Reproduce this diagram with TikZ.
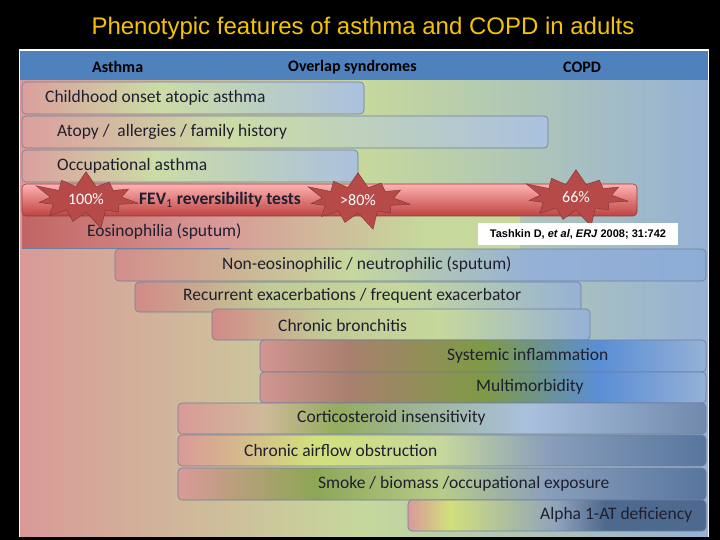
\documentclass[tikz,border=0pt]{standalone}
\usepackage{fontspec}
\setmainfont{Carlito}
\newfontfamily\titlefont{Liberation Sans}
\usetikzlibrary{shapes.symbols}
\definecolor{cR}{HTML}{D99A98}
\definecolor{cG}{HTML}{C6D89C}
\definecolor{cB}{HTML}{95B1D6}
\definecolor{hdr}{HTML}{4F81BD}
\definecolor{tit}{HTML}{F5C400}
\definecolor{brd}{HTML}{6F7F9F}
\definecolor{star}{HTML}{B64A48}
\definecolor{txt}{HTML}{1F1F2F}
\definecolor{brn}{HTML}{A8806E}
\definecolor{olv}{HTML}{7F9A45}
\definecolor{bl}{HTML}{5A8ED6}
\definecolor{dbl}{HTML}{57759E}
\pgfdeclarehorizontalshading{bgsh}{100bp}{color(0bp)=(cR); color(25bp)=(cR); color(50bp)=(cG); color(75bp)=(cB); color(100bp)=(cB)}
\pgfdeclarehorizontalshading{lightsh}{100bp}{color(0bp)=(cR!95!white); color(25bp)=(cR!95!white); color(45bp)=(cG!90!white); color(75bp)=(cB!80!white); color(100bp)=(cB!80!white)}
\pgfdeclarehorizontalshading{eossh}{100bp}{color(0bp)=(star!85!white); color(25bp)=(star!85!white); color(45bp)=(cR); color(65bp)=(cG); color(75bp)=(cG); color(100bp)=(cG)}
\pgfdeclarehorizontalshading{noneos}{100bp}{color(0bp)=(cR!85!star); color(25bp)=(cR!85!star); color(45bp)=(cG); color(60bp)=(cB); color(75bp)=(cB!85!bl); color(100bp)=(cB!85!bl)}
\pgfdeclarehorizontalshading{recsh}{100bp}{color(0bp)=(cR!80!star); color(25bp)=(cR!80!star); color(40bp)=(cG!85!brn); color(55bp)=(cG); color(75bp)=(cB); color(100bp)=(cB)}
\pgfdeclarehorizontalshading{syssh}{100bp}{color(0bp)=(cR!85!brn); color(25bp)=(cR!85!brn); color(35bp)=(brn); color(50bp)=(olv); color(63bp)=(bl); color(75bp)=(cB); color(100bp)=(cB)}
\pgfdeclarehorizontalshading{cortsh}{100bp}{color(0bp)=(cR); color(25bp)=(cR); color(33bp)=(cR!50!cG); color(40bp)=(olv!70!cG); color(58bp)=(cB!80!white); color(75bp)=(dbl!85!white); color(100bp)=(dbl!85!white)}
\pgfdeclarehorizontalshading{airsh}{100bp}{color(0bp)=(cR); color(25bp)=(cR); color(38bp)=(cG!80!yellow); color(50bp)=(cG); color(60bp)=(dbl!70!white); color(75bp)=(dbl); color(100bp)=(dbl)}
\pgfdeclarehorizontalshading{smksh}{100bp}{color(0bp)=(cR); color(25bp)=(cR); color(38bp)=(olv!80!cG); color(50bp)=(cG!80!olv); color(60bp)=(dbl!70!white); color(75bp)=(dbl); color(100bp)=(dbl)}
\pgfdeclarehorizontalshading{alpsh}{100bp}{color(0bp)=(cR); color(25bp)=(cR); color(32bp)=(cG!80!yellow); color(50bp)=(cB!70!gray); color(58bp)=(dbl!90!black); color(75bp)=(dbl!90!black); color(100bp)=(dbl!90!black)}
\tikzset{
  bar/.style={draw=brd, line width=0.6pt, rounded corners=4pt},
  lbl/.style={anchor=west, text=txt, font=\fontsize{17.5}{20}\selectfont, inner sep=0pt},
  hlbl/.style={anchor=west, text=black, font=\bfseries\fontsize{16}{19}\selectfont, inner sep=0pt},
  burst/.style={starburst, starburst points=11, starburst point height=20pt, fill=star, draw=star!70!black, minimum width=112pt, minimum height=66pt, inner sep=0pt, text=white, font=\fontsize{16}{18}\selectfont}
}
\begin{document}
\begin{tikzpicture}[x=1pt,y=-1pt]
\useasboundingbox (0,0) rectangle (720,540);
\fill[black] (0,0) rectangle (720,540);
\node[text=tit, font=\titlefont\fontsize{24}{28}\selectfont] (title) at (363,28) {Phenotypic features of asthma and COPD in adults};
\draw[white, line width=1.5pt] (20,50) rectangle (708,536);
\shade[shading=bgsh] (20,80) rectangle (708,536);
\fill[hdr] (20,51) rectangle (708,80);
\node[hlbl] (h1) at (92,67) {Asthma};
\node[hlbl] (h2) at (288,67) {Overlap syndromes};
\node[hlbl] (h3) at (563,67) {COPD};
% bars
\shade[bar, shading=lightsh] (22,82) rectangle (364,114);
\node[lbl] (b1) at (45,98) {Childhood onset atopic asthma};
\shade[bar, shading=lightsh] (22,116) rectangle (548,148);
\node[lbl] (b2) at (57,132) {Atopy /\ \ allergies / family history};
\shade[bar, shading=lightsh] (22,150) rectangle (358,182);
\node[lbl] (b3) at (57,166) {Occupational asthma};
\shade[shading=eossh] (22,215) rectangle (520,248);
\draw[brd] (22,248) -- (230,248);
\node[lbl] (b5) at (87,232) {Eosinophilia (sputum)};
\draw[bar, top color=red!30!white, bottom color=star!90!red, draw=star!80!black] (22,184) rectangle (637,216);
\node[lbl, font=\bfseries\fontsize{17.5}{20}\selectfont] (b4) at (139,200) {FEV{\mdseries\textsubscript{1}} reversibility tests};
\node[burst] (s1) at (86,199) {100\%};
\node[burst] (s2) at (358,200) {>80\%};
\node[burst] (s3) at (576,197) {66\%};
\node[fill=white, font=\titlefont\bfseries\fontsize{11}{13}\selectfont, text=black, minimum width=200pt, minimum height=22pt, inner sep=1pt] (ref) at (578,234) {Tashkin D, \textit{et al}, \textit{ERJ} 2008; 31:742};
\shade[bar, shading=noneos] (115,249) rectangle (706,281);
\node[lbl] (b6) at (222,265) {Non-eosinophilic / neutrophilic (sputum)};
\shade[bar, shading=recsh] (135,282) rectangle (581,312);
\node[lbl] (b7) at (183,296) {Recurrent exacerbations / frequent exacerbator};
\shade[bar, shading=recsh] (212,309) rectangle (590,340);
\node[lbl] (b8) at (278,325) {Chronic bronchitis};
\shade[bar, shading=syssh] (260,340) rectangle (706,372);
\node[lbl] (b9) at (447,356) {Systemic inflammation};
\shade[bar, shading=syssh] (260,372) rectangle (706,403);
\node[lbl] (b10) at (476,387) {Multimorbidity};
\shade[bar, shading=cortsh] (178,403) rectangle (706,434);
\node[lbl] (b11) at (297,418) {Corticosteroid insensitivity};
\shade[bar, shading=airsh] (178,435) rectangle (706,466);
\node[lbl] (b12) at (244,450) {Chronic airflow obstruction};
\shade[bar, shading=smksh] (178,468) rectangle (706,500);
\node[lbl] (b13) at (318,484) {Smoke / biomass /occupational exposure};
\shade[bar, shading=alpsh] (408,500) rectangle (706,531);
\node[lbl] (b14) at (540,515) {Alpha 1-AT deficiency};
\end{tikzpicture}
\end{document}
